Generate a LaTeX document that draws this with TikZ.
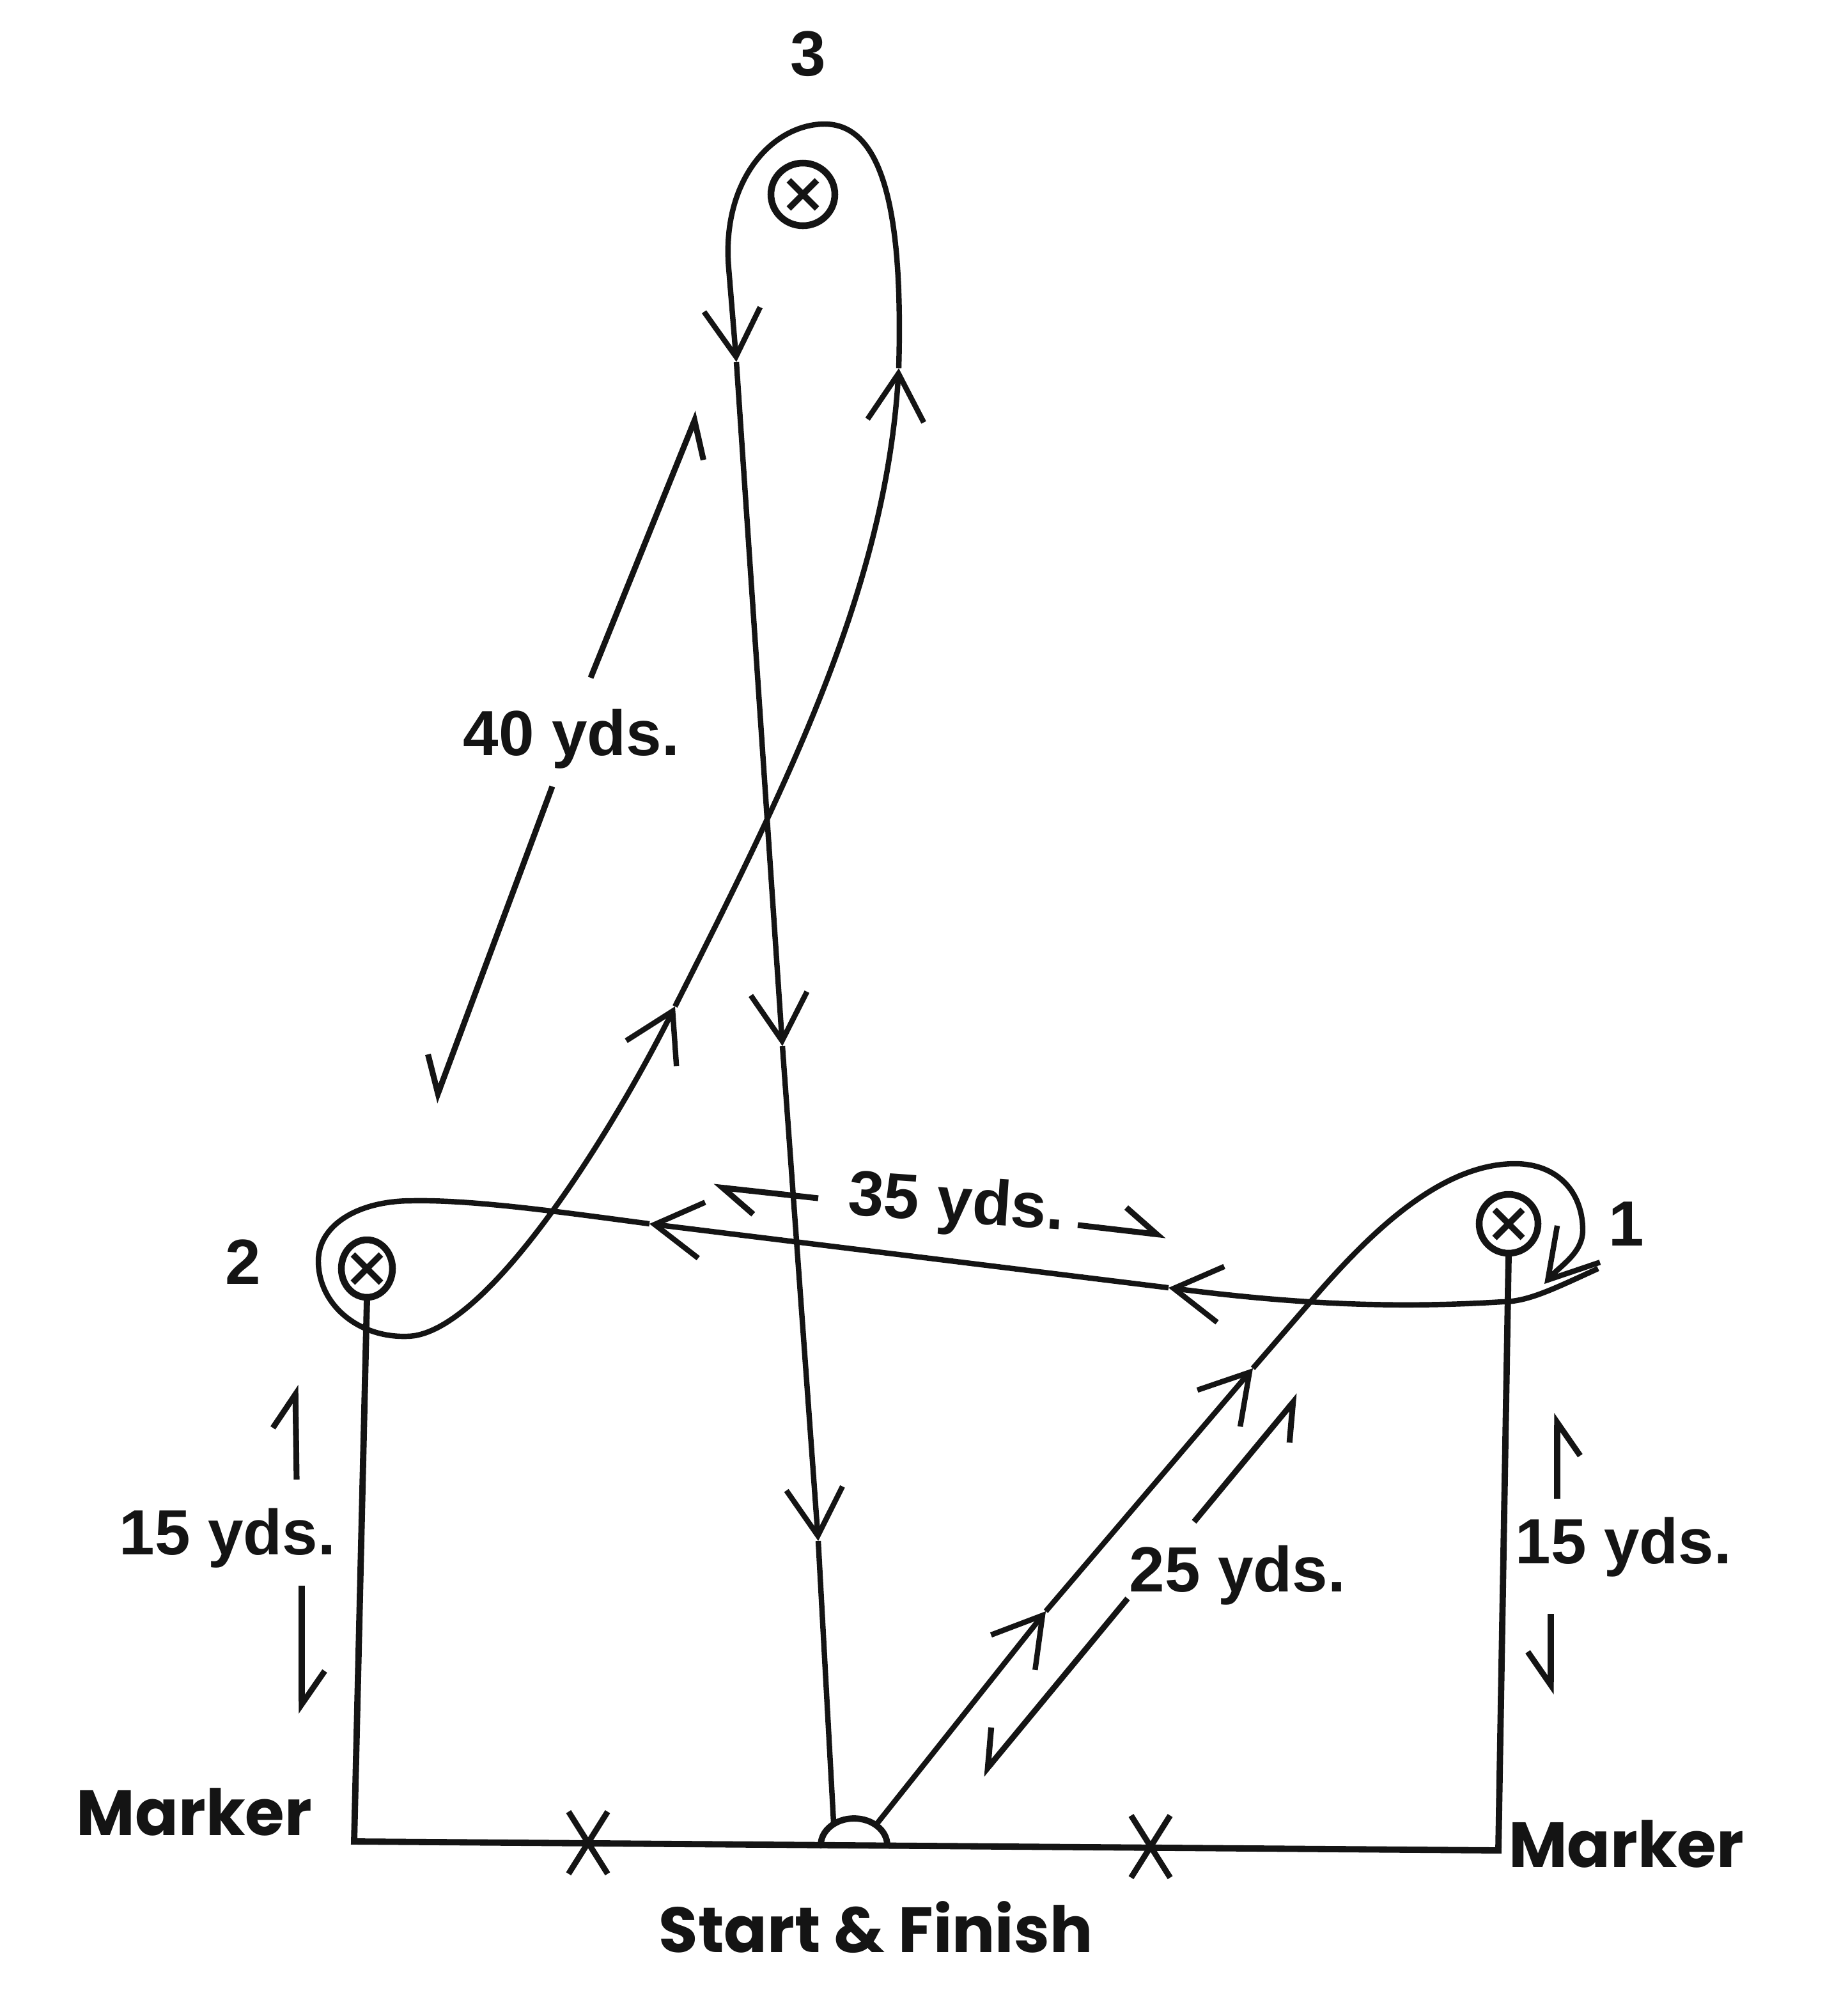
\documentclass[tikz,border=0pt]{standalone}
\usepackage{fontspec}
\setmainfont{Liberation Sans}
\newfontfamily\labelfont{Liberation Sans}
\newfontfamily\markerfont{Poppins}
\definecolor{InkColor}{RGB}{20,20,20}
\usepackage{tikz}
\usetikzlibrary{positioning, arrows.meta, shapes.geometric, shapes.misc, calc}
\tikzstyle{track} = [line width=1.4pt, InkColor, line cap=round]
\tikzstyle{routeline} = [line width=1.2pt, InkColor]
\tikzstyle{route} = [line width=1.2pt, InkColor, -{Straight Barb[length=3.7mm, width=4.4mm, line width=1.2pt]}]
\tikzset{
  barrel/.style={ellipse, draw=InkColor, line width=1.5pt, minimum width=4.6mm, minimum height=4.6mm, inner sep=0pt,
    path picture={\draw[line width=1.4pt, InkColor]
      ([shift={(-1.1mm,-1.1mm)}]path picture bounding box.center) -- ([shift={(1.1mm,1.1mm)}]path picture bounding box.center)
      ([shift={(-1.1mm,1.1mm)}]path picture bounding box.center) -- ([shift={(1.1mm,-1.1mm)}]path picture bounding box.center);}},
  xmark/.style={cross out, draw=InkColor, line width=1.3pt, minimum width=2.6mm, minimum height=4.4mm, inner sep=0pt},
  label/.style={text=InkColor, inner sep=0pt, font={\labelfont\bfseries\fontsize{14.2}{17}\selectfont}},
  marker label/.style={text=InkColor, inner sep=0pt, font={\markerfont\bfseries\fontsize{14.2}{17}\selectfont}},
  dim left/.style={line width=1.3pt, InkColor, -{Straight Barb[left, length=2.6mm, width=3.6mm, line width=1.3pt]}},
  dim right/.style={line width=1.3pt, InkColor, -{Straight Barb[right, length=2.6mm, width=3.6mm, line width=1.3pt]}}
}

\begin{document}
\begin{tikzpicture}[x=0.1mm, y=-0.1mm]
  \useasboundingbox (0,0) rectangle (1440,1576.5);

  % Barrels
  \node[barrel] (barrel1) at (1180,957) {};
  \node[barrel, minimum width=4mm, minimum height=4.5mm] (barrel2) at (287,992) {};
  \node[barrel, minimum width=5mm, minimum height=4.9mm] (barrel3) at (628,152) {};
  \node[label] (num1) at (1272,957) {1};
  \node[label] (num2) at (190,987) {2};
  \node[label] (num3) at (632,42) {3};

  % Start line and markers
  \coordinate (cornerL) at (277,1440);
  \coordinate (cornerR) at (1172,1447);
  \coordinate (gate) at (668,1443);
  \coordinate (gateL) at (652,1425);
  \coordinate (gateR) at (686,1426);
  \draw[track] (barrel2.south) -- (cornerL) -- (cornerR) -- (barrel1.south);
  \draw[track] ([xshift=-2.6mm]gate) arc[start angle=180, end angle=0, x radius=2.6mm, y radius=2.1mm];
  \node[xmark] (xL) at (460,1441) {};
  \node[xmark] (xR) at (900,1444) {};
  \node[marker label] (markerL) at (152,1417) {Marker};
  \node[marker label] (markerR) at (1272,1442) {Marker};
  \node[marker label] (startlab) at (685,1507) {Start \& Finish};

  % Route to barrel 1
  \coordinate (r1) at (818,1260);
  \coordinate (r2) at (980,1070);
  \coordinate (x1) at (1025,1018);
  \coordinate (t1) at (1185,910);
  \coordinate (e1) at (1238,962);
  \coordinate (a1) at (1208,1004);
  \draw[route] (gateR) -- (r1);
  \draw[route] (r1) -- (r2);
  \draw[route] (r2) -- (x1) .. controls (1068,968) and (1125,910) .. (t1)
    .. controls (1218,910) and (1238,932) .. (e1) .. controls (1238,980) and (1220,990) .. (a1);

  % Route to barrel 2
  \coordinate (tail) at (1250,992);
  \coordinate (k1) at (1175,1018);
  \coordinate (a4) at (914,1007);
  \coordinate (a5) at (508,957);
  \coordinate (t2) at (322,939);
  \coordinate (w2) at (249,986);
  \coordinate (b2) at (318,1045);
  \coordinate (a6) at (528,787);
  \draw[route] (tail) .. controls (1215,1008) and (1195,1018) .. (k1) .. controls (1080,1024) and (1000,1018) .. (a4);
  \draw[route] (a4) -- (a5);
  \draw[route] (a5) .. controls (440,948) and (370,938) .. (t2) .. controls (280,939) and (249,958) .. (w2)
    .. controls (249,1020) and (280,1046) .. (b2) .. controls (378,1045) and (474,894) .. (a6);

  % Route to barrel 3 and home
  \coordinate (a7) at (703,288);
  \coordinate (t3) at (645,97);
  \coordinate (w3) at (570,210);
  \coordinate (a8) at (576,283);
  \coordinate (a9) at (612,818);
  \coordinate (a10) at (640,1205);
  \draw[route] (a6) .. controls (618,609) and (693,458) .. (a7);
  \draw[route] (a7) .. controls (706,180) and (695,97) .. (t3) .. controls (605,97) and (564,140) .. (w3) -- (a8);
  \draw[route] (a8) -- (a9);
  \draw[route] (a9) -- (a10);
  \draw[routeline] (a10) -- (gateL);

  % Distances
  \node[label] (lab40) at (447,578) {40 yds.};
  \coordinate (d40a) at (462,530);
  \coordinate (d40b) at (546,322);
  \coordinate (d40c) at (432,615);
  \coordinate (d40d) at (340,862);
  \draw[dim right] (d40a) -- (d40b);
  \draw[dim right] (d40c) -- (d40d);

  \node[label, rotate=-4] (lab35) at (748,943) {35 yds.};
  \coordinate (d35a) at (640,937);
  \coordinate (d35b) at (558,928);
  \coordinate (d35c) at (843,958);
  \coordinate (d35d) at (912,966);
  \draw[dim left] (d35a) -- (d35b);
  \draw[dim left] (d35c) -- (d35d);

  \node[label] (lab25) at (968,1232) {25 yds.};
  \coordinate (d25a) at (934,1190);
  \coordinate (d25b) at (1016,1091);
  \coordinate (d25c) at (882,1250);
  \coordinate (d25d) at (768,1388);
  \draw[dim right] (d25a) -- (d25b);
  \draw[dim right] (d25c) -- (d25d);

  \node[label] (lab15L) at (178,1203) {15 yds.};
  \coordinate (d15a) at (232,1157);
  \coordinate (d15b) at (231,1083);
  \coordinate (d15c) at (236,1240);
  \coordinate (d15d) at (236,1340);
  \draw[dim left] (d15a) -- (d15b);
  \draw[dim left] (d15c) -- (d15d);

  \node[label] (lab15R) at (1270,1210) {15 yds.};
  \coordinate (d15e) at (1218,1172);
  \coordinate (d15f) at (1218,1105);
  \coordinate (d15g) at (1213,1262);
  \coordinate (d15h) at (1213,1325);
  \draw[dim right] (d15e) -- (d15f);
  \draw[dim right] (d15g) -- (d15h);
\end{tikzpicture}
\end{document}
